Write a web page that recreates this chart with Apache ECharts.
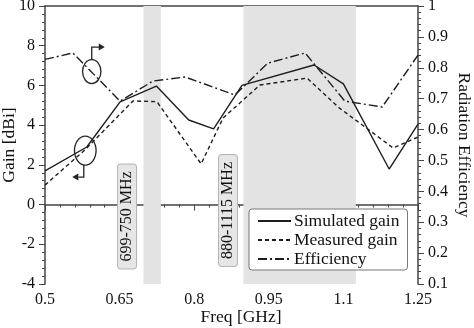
<!DOCTYPE html>
<html>
<head>
<meta charset="utf-8">
<script src="https://cdn.jsdelivr.net/npm/echarts@6/dist/echarts.min.js"></script>
<style>
html,body{margin:0;padding:0;background:#fff;}
#chart{width:474px;height:328px;}
</style>
</head>
<body>
<div id="chart"></div>
<script>
// Data (frequency in GHz)
const freqSim  = [0.5, 0.584, 0.651, 0.724, 0.789, 0.839, 0.896, 1.041, 1.100, 1.192, 1.25];
const gainSim  = [1.7, 2.9, 5.17, 5.97, 4.26, 3.81, 6.0, 7.03, 6.08, 1.79, 4.05];
const freqMeas = [0.5, 0.58, 0.677, 0.725, 0.814, 0.858, 0.932, 1.027, 1.09, 1.2, 1.25];
const gainMeas = [0.98, 2.75, 5.22, 5.18, 2.05, 4.36, 6.02, 6.37, 4.9, 2.85, 3.4];
const freqEff  = [0.5, 0.556, 0.651, 0.717, 0.782, 0.882, 0.948, 1.023, 1.103, 1.178, 1.25];
const effVals  = [0.827, 0.848, 0.692, 0.757, 0.770, 0.712, 0.815, 0.848, 0.692, 0.673, 0.841];
const bands = [[0.698, 0.733], [0.899, 1.125]];
const bandLabels = ['699-750 MHz', '880-1115 MHz'];
const seriesNames = ['Simulated gain', 'Measured gain', 'Efficiency'];

const FONT = 'Liberation Serif';
const TXT = '#111';
const AX = '#444';
const LINE = '#1e1e1e';

const zip = (xs, ys) => xs.map((x, i) => [x, ys[i]]);

const chart = echarts.init(document.getElementById('chart'), null, {renderer: 'canvas'});

const axisCommon = {
  nameMoveOverlap: false,
  axisLine: {show: true, lineStyle: {color: AX, width: 1.5}},
  axisTick: {show: true, inside: false, length: 6, lineStyle: {color: AX, width: 1}},
  minorTick: {show: true, splitNumber: 5, length: 3, lineStyle: {color: AX, width: 1}},
  splitLine: {show: false},
  axisLabel: {color: TXT, fontFamily: FONT, fontSize: 16},
  nameTextStyle: {color: TXT, fontFamily: FONT, fontSize: 17.5}
};

const option = {
  animation: false,
  backgroundColor: '#fff',
  grid: {left: 45, right: 56, top: 6, bottom: 44, containLabel: false, outerBoundsMode: 'none'},
  legend: {
    left: 249, top: 209,
    orient: 'vertical',
    data: seriesNames,
    backgroundColor: '#fff',
    borderColor: '#777', borderWidth: 1, borderRadius: 3,
    padding: [3, 8, 2, 8],
    itemGap: 1, itemWidth: 33, itemHeight: 14,
    itemStyle: {opacity: 0},
    textStyle: {color: TXT, fontFamily: FONT, fontSize: 17.5, padding: [0, 0, 0, -2]}
  },
  xAxis: [
    Object.assign({}, axisCommon, {
      type: 'value', min: 0.5, max: 1.25, interval: 0.15,
      name: 'Freq [GHz]', nameLocation: 'middle', nameGap: 24,
      nameTextStyle: {color: TXT, fontFamily: FONT, fontSize: 17.5, padding: [0, 0, 0, 19]},
      axisLabel: {color: TXT, fontFamily: FONT, fontSize: 16, margin: 8,
        formatter: v => String(+v.toFixed(2))}
    }),
    {type: 'value', position: 'top', min: 0.5, max: 1.25,
     axisLine: {show: true, lineStyle: {color: AX, width: 1.5}},
     axisTick: {show: false}, axisLabel: {show: false}, splitLine: {show: false}}
  ],
  yAxis: [
    Object.assign({}, axisCommon, {
      type: 'value', min: -4, max: 10, interval: 2, position: 'left',
      name: 'Gain [dBi]', nameLocation: 'middle', nameGap: 27,
      axisLabel: {color: TXT, fontFamily: FONT, fontSize: 16, margin: 10}
    }),
    Object.assign({}, axisCommon, {
      type: 'value', min: 0.1, max: 1, interval: 0.1, position: 'right',
      alignTicks: false,
      name: 'Radiation Efficiency', nameLocation: 'middle', nameGap: 37, nameRotate: -90,
      axisLabel: {color: TXT, fontFamily: FONT, fontSize: 16, margin: 10,
        formatter: v => String(+v.toFixed(1))}
    })
  ],
  series: [
    {
      name: seriesNames[0], type: 'line', xAxisIndex: 0, yAxisIndex: 0,
      data: zip(freqSim, gainSim), symbol: 'none', z: 3,
      lineStyle: {color: LINE, width: 1.4, type: 'solid'},
      itemStyle: {color: LINE},
      markArea: {
        silent: true, z: 1,
        itemStyle: {color: '#e3e3e3'},
        data: bands.map(b => [{xAxis: b[0]}, {xAxis: b[1]}])
      }
    },
    {
      name: seriesNames[1], type: 'line', xAxisIndex: 0, yAxisIndex: 0,
      data: zip(freqMeas, gainMeas), symbol: 'none', z: 3,
      lineStyle: {color: LINE, width: 1.4, type: [4, 3]},
      itemStyle: {color: LINE}
    },
    {
      name: seriesNames[2], type: 'line', xAxisIndex: 0, yAxisIndex: 1,
      data: zip(freqEff, effVals), symbol: 'none', z: 3,
      lineStyle: {color: LINE, width: 1.4, type: [9, 3, 2, 3]},
      itemStyle: {color: LINE}
    }
  ]
};
chart.setOption(option);

// Annotations placed in data coordinates
function px(x, y, yi) { return chart.convertToPixel({xAxisIndex: 0, yAxisIndex: yi || 0}, [x, y]); }
const boxStyle = (text) => ({
  text: text, fill: TXT, font: '16px "' + FONT + '"',
  align: 'center', verticalAlign: 'middle',
  backgroundColor: '#e6e6e6', borderColor: '#b5b5b5', borderWidth: 1, borderRadius: 3,
  padding: [1, 7, 1, 7]
});
const l1 = px(0.665, -0.6);
const l2 = px(0.868, -0.3);
const e1 = px(0.594, 6.7);
const e2 = px(0.581, 2.72);
const S = {stroke: '#222', lineWidth: 1.3, fill: null};
chart.setOption({
  graphic: [
    {type: 'text', x: l1[0], y: l1[1], rotation: Math.PI / 2, z: 10, style: boxStyle(bandLabels[0])},
    {type: 'text', x: l2[0], y: l2[1], rotation: Math.PI / 2, z: 10, style: boxStyle(bandLabels[1])},
    {type: 'ellipse', z: 10, shape: {cx: e1[0], cy: e1[1], rx: 9.2, ry: 12}, style: S},
    {type: 'ellipse', z: 10, shape: {cx: e2[0], cy: e2[1], rx: 10.8, ry: 14.5}, style: S},
    {type: 'polyline', z: 10, shape: {points: [[e1[0], e1[1] - 12], [e1[0], e1[1] - 24.5], [e1[0] + 8, e1[1] - 24.5]]}, style: {stroke: '#222', lineWidth: 1.3, fill: null}},
    {type: 'polygon', z: 10, shape: {points: [[e1[0] + 7, e1[1] - 28], [e1[0] + 13, e1[1] - 24.5], [e1[0] + 7, e1[1] - 21]]}, style: {fill: '#222'}},
    {type: 'polyline', z: 10, shape: {points: [[e2[0] - 1.5, e2[1] + 14.5], [e2[0] - 1.5, e2[1] + 26.5], [e2[0] - 7, e2[1] + 26.5]]}, style: {stroke: '#222', lineWidth: 1.3, fill: null}},
    {type: 'polygon', z: 10, shape: {points: [[e2[0] - 7, e2[1] + 23], [e2[0] - 13, e2[1] + 26.5], [e2[0] - 7, e2[1] + 30]]}, style: {fill: '#222'}}
  ]
});
</script>
</body>
</html>
